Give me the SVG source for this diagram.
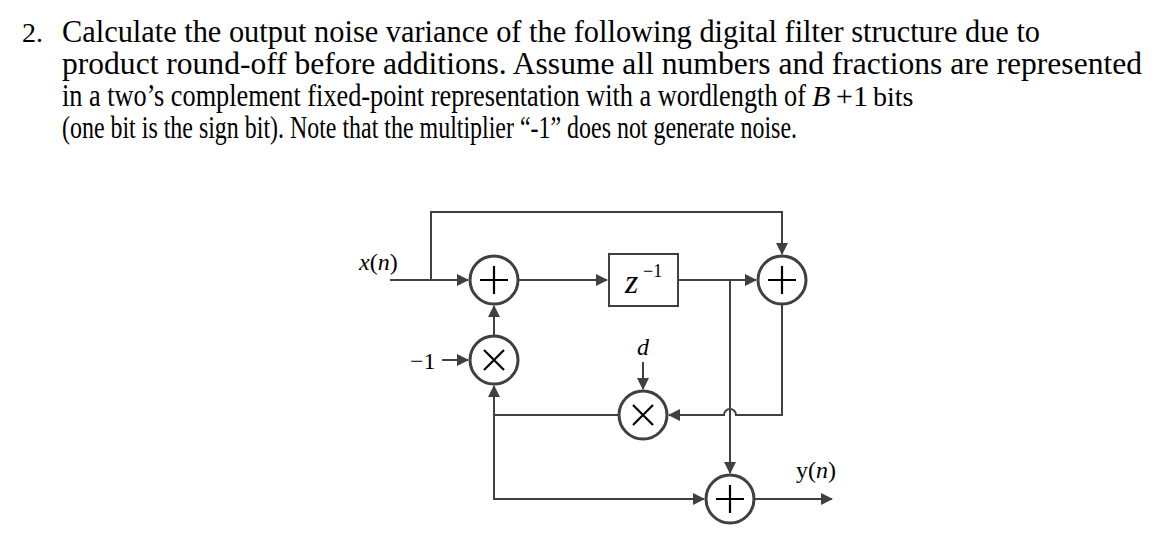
<svg xmlns="http://www.w3.org/2000/svg" width="1152" height="536" viewBox="0 0 1152 536">
<style>
.t{font-family:"Liberation Serif",serif;font-size:31px;fill:#000}
.l{font-family:"Liberation Serif",serif;font-size:24px;fill:#000}
.w{stroke:#404040;stroke-width:2;fill:none}
.n{stroke:#404040;stroke-width:3;fill:#fff}
.s{stroke:#000;stroke-width:2.2}
</style>
<defs><marker id="a" markerWidth="12" markerHeight="12" refX="11" refY="6" orient="auto" markerUnits="userSpaceOnUse"><path d="M0,0 L12,6 L0,12 Z" fill="#404040"/></marker></defs>
<rect width="1152" height="536" fill="#fff"/>
<text class="t" x="22" y="42" style="font-size:28px">2.</text>
<text class="t" x="62" y="42" textLength="978" lengthAdjust="spacingAndGlyphs">Calculate the output noise variance of the following digital filter structure due to</text>
<text class="t" x="62" y="74" textLength="1080" lengthAdjust="spacingAndGlyphs">product round-off before additions. Assume all numbers and fractions are represented</text>
<text class="t" x="62" y="106" textLength="744" lengthAdjust="spacingAndGlyphs">in a two’s complement fixed-point representation with a wordlength of</text>
<text class="t" x="812" y="106" style="font-style:italic;font-size:30px">B</text><text class="t" x="836" y="106" style="font-size:30px">+1</text>
<text class="t" x="873" y="106" style="font-size:28px">bits</text>
<text class="t" x="62" y="138" textLength="735" lengthAdjust="spacingAndGlyphs">(one bit is the sign bit). Note that the multiplier “-1” does not generate noise.</text>
<g id="connectors">
<path class="w" d="M390,280 H468" marker-end="url(#a)"/>
<path class="w" d="M431,280 V212 H782 V254" marker-end="url(#a)"/>
<path class="w" d="M518,280 H607" marker-end="url(#a)"/>
<path class="w" d="M678,280 H756" marker-end="url(#a)"/>
<path class="w" d="M730,280 V473" marker-end="url(#a)"/>
<path class="w" d="M494,336 V306" marker-end="url(#a)"/>
<path class="w" d="M442,360 H468" marker-end="url(#a)"/>
<path class="w" d="M643,362 V389" marker-end="url(#a)"/>
<path class="w" d="M782,304 V415 H736 A6,6 0 0 0 724,415 H669" marker-end="url(#a)"/>
<path class="w" d="M619,415 H494 V386" marker-end="url(#a)"/>
<path class="w" d="M494,415 V499 H704" marker-end="url(#a)"/>
<path class="w" d="M754,499 H832" marker-end="url(#a)"/>
</g>
<g id="add1"><circle class="n" cx="494" cy="280" r="24"/><path class="s" d="M480,280 H508 M494,266 V294"/></g>
<g id="delay"><rect x="609" y="254" width="69" height="52" fill="#fff" stroke="#404040" stroke-width="2"/><text class="l" x="625" y="293" style="font-style:italic;font-size:34px">z</text><text class="l" x="643" y="277" style="font-size:18px">−1</text></g>
<g id="add2"><circle class="n" cx="782" cy="280" r="24"/><path class="s" d="M768,280 H796 M782,266 V294"/></g>
<g id="mulneg"><circle class="n" cx="494" cy="360" r="24"/><path class="s" d="M484,350 L504,370 M504,350 L484,370"/></g>
<g id="muld"><circle class="n" cx="643" cy="415" r="24"/><path class="s" d="M633,405 L653,425 M653,405 L633,425"/></g>
<g id="add3"><circle class="n" cx="730" cy="499" r="24"/><path class="s" d="M716,499 H744 M730,485 V513"/></g>
<text class="l" x="359" y="270"><tspan font-style="italic">x</tspan>(<tspan font-style="italic">n</tspan>)</text>
<text class="l" x="410" y="369">−1</text>
<text class="l" x="637" y="355" style="font-style:italic">d</text>
<text class="l" x="796" y="478">y(<tspan font-style="italic">n</tspan>)</text>
</svg>
